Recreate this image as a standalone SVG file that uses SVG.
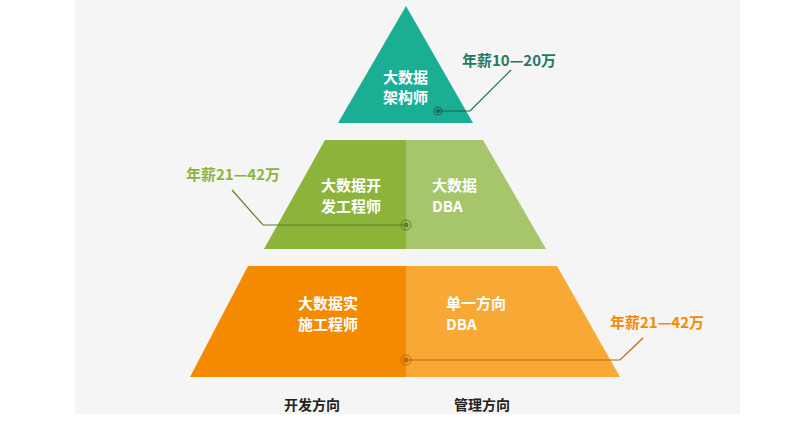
<svg xmlns="http://www.w3.org/2000/svg" width="808" height="423" viewBox="0 0 808 423">
<style>
.t{font-family:"Noto Sans CJK SC","Noto Sans",sans-serif;font-weight:bold;font-size:15px;fill:#fff}
.s{font-family:"Noto Sans CJK SC","Noto Sans",sans-serif;font-weight:bold;font-size:15px}
.d{font-family:"Noto Sans CJK SC","Noto Sans",sans-serif;font-weight:bold;font-size:14px;fill:#222}
.ln{fill:none;stroke-width:1.2}
</style>
<rect width="808" height="423" fill="#fff"/>
<rect x="75" y="0" width="665" height="414" fill="#f5f5f5"/>
<g id="top">
<polygon points="406,6 473,123 338,123" fill="#1aaf95"/>
<text class="t" x="383" y="83">大数据</text>
<text class="t" x="383" y="103">架构师</text>
</g>
<g id="middle">
<polygon points="325,140 406,140 406,249 264,249" fill="#8cb43a"/>
<polygon points="406,140 483,140 546,249 406,249" fill="#a7c56a"/>
<text class="t" x="321" y="191">大数据开</text>
<text class="t" x="321" y="212">发工程师</text>
<text class="t" x="432" y="191">大数据</text>
<text class="t" x="432" y="212">DBA</text>
</g>
<g id="bottom">
<polygon points="248,266 406,266 406,377 190,377" fill="#f38a00"/>
<polygon points="406,266 557,266 620,377 406,377" fill="#f8a935"/>
<text class="t" x="298" y="309">大数据实</text>
<text class="t" x="298" y="330">施工程师</text>
<text class="t" x="446" y="309">单一方向</text>
<text class="t" x="446" y="330">DBA</text>
</g>
<g id="labels">
<text class="s" x="462" y="66" fill="#1e7a64">年薪10—20万</text>
<text class="s" x="186" y="180" fill="#8cb43a">年薪21—42万</text>
<text class="s" x="610" y="328" fill="#f38a00">年薪21—42万</text>
<text class="d" x="284" y="410">开发方向</text>
<text class="d" x="454" y="410">管理方向</text>
</g>
<g id="connectors">
<polyline class="ln" points="438,111 470,111 511,70" stroke="#1e5e50"/>
<circle cx="438" cy="111" r="4" fill="none" stroke="#1e5e50"/>
<circle cx="438" cy="111" r="2" fill="#1e5e50"/>
<polyline class="ln" points="232,190 263,225 405,225" stroke="#5f7e2a"/>
<circle cx="406" cy="225" r="5" fill="none" stroke="#5f7e2a"/>
<circle cx="406" cy="225" r="2.5" fill="#5f7e2a"/>
<polyline class="ln" points="406,360 620,360 643,338" stroke="#b8690a"/>
<circle cx="406" cy="360" r="5" fill="none" stroke="#b8690a"/>
<circle cx="406" cy="360" r="2.5" fill="#b8690a"/>
</g>
</svg>
